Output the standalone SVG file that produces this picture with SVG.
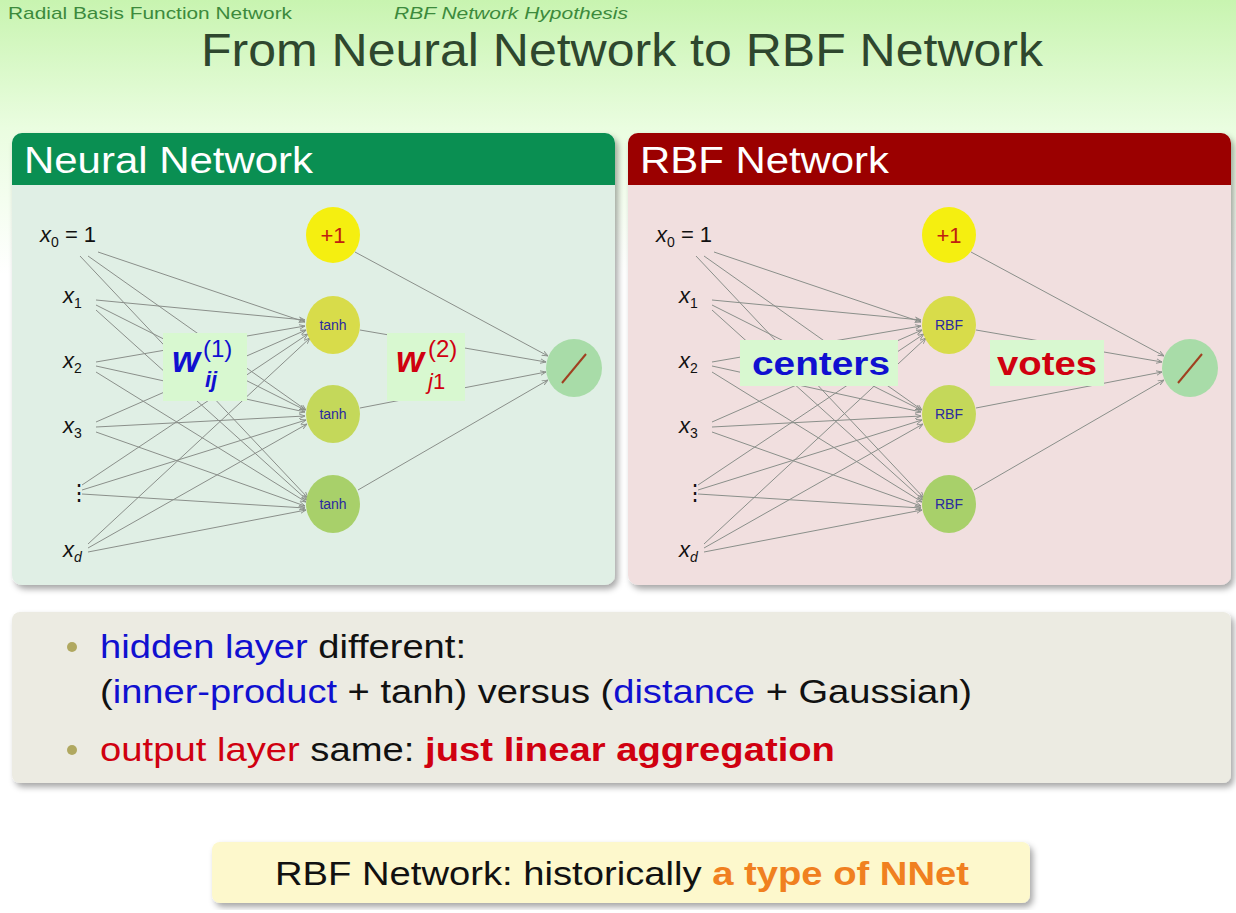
<svg xmlns="http://www.w3.org/2000/svg" xmlns:xlink="http://www.w3.org/1999/xlink" width="1236" height="913" viewBox="0 0 1236 913">
<style>
text{font-family:"Liberation Sans",Arial,sans-serif}
.e{stroke:#8a8f8a;stroke-width:1;fill:none;marker-end:url(#ah)}
.in{font-size:22px;font-style:italic;fill:#111}
.sub{font-size:14px}
.hd{font-size:37px;fill:#fff}
.nd{font-size:14px;fill:#2a2aa0;text-anchor:middle}
.bt{font-size:33px;fill:#111}
.blue{fill:#1010d0}
.red{fill:#d00010}
</style>
<defs>
<linearGradient id="bg" x1="0" y1="0" x2="0" y2="1">
<stop offset="0" stop-color="#c8f4b0"/><stop offset="0.14" stop-color="#eafde0"/><stop offset="0.3" stop-color="#ffffff"/>
</linearGradient>
<marker id="ah" viewBox="0 0 10 10" refX="10" refY="5" markerWidth="6" markerHeight="6" orient="auto"><path d="M0,1 L10,5 L0,9" fill="none" stroke="#8a8f8a" stroke-width="1.5"/></marker>
<filter id="sh" x="-5%" y="-5%" width="110%" height="115%"><feDropShadow dx="3" dy="4" stdDeviation="3" flood-color="#000" flood-opacity="0.35"/></filter>
<g id="edges">
<line class="e" x1="98" y1="252" x2="305" y2="322"/><line class="e" x1="88" y1="256" x2="306" y2="410"/><line class="e" x1="80" y1="256" x2="308" y2="498"/>
<line class="e" x1="96" y1="300" x2="305" y2="320"/><line class="e" x1="96" y1="305" x2="305" y2="410"/><line class="e" x1="96" y1="310" x2="307" y2="500"/>
<line class="e" x1="96" y1="362" x2="305" y2="326"/><line class="e" x1="96" y1="366" x2="305" y2="412"/><line class="e" x1="96" y1="372" x2="306" y2="502"/>
<line class="e" x1="96" y1="422" x2="306" y2="330"/><line class="e" x1="96" y1="427" x2="305" y2="416"/><line class="e" x1="96" y1="432" x2="305" y2="506"/>
<line class="e" x1="82" y1="485" x2="308" y2="334"/><line class="e" x1="82" y1="490" x2="306" y2="420"/><line class="e" x1="82" y1="494" x2="305" y2="508"/>
<line class="e" x1="88" y1="544" x2="310" y2="338"/><line class="e" x1="88" y1="548" x2="307" y2="424"/><line class="e" x1="88" y1="552" x2="306" y2="510"/>
<line class="e" x1="355" y1="252" x2="548" y2="356"/><line class="e" x1="360" y1="330" x2="546" y2="362"/><line class="e" x1="360" y1="408" x2="546" y2="372"/><line class="e" x1="358" y1="490" x2="548" y2="380"/>
</g>
</defs>
<rect width="1236" height="913" fill="url(#bg)"/>
<text x="8" y="19" font-size="17" fill="#3c8a3c" textLength="284" lengthAdjust="spacingAndGlyphs">Radial Basis Function Network</text>
<text x="394" y="19" font-size="17" font-style="italic" fill="#3c8a3c" textLength="234" lengthAdjust="spacingAndGlyphs">RBF Network Hypothesis</text>
<text x="201" y="66" font-size="46" fill="#2e472e" textLength="842" lengthAdjust="spacingAndGlyphs">From Neural Network to RBF Network</text>

<g id="panel-nn">
<rect x="12" y="133" width="603" height="452" rx="10" fill="#e0efe5" filter="url(#sh)"/>
<path d="M12,185 V143 a10,10 0 0 1 10,-10 H605 a10,10 0 0 1 10,10 V185 Z" fill="#0a8f52"/>
<text class="hd" x="24" y="173" textLength="289" lengthAdjust="spacingAndGlyphs">Neural Network</text>
</g>
<g id="panel-rbf">
<rect x="628" y="133" width="603" height="452" rx="10" fill="#f1dfdf" filter="url(#sh)"/>
<path d="M628,185 V143 a10,10 0 0 1 10,-10 H1221 a10,10 0 0 1 10,10 V185 Z" fill="#9b0000"/>
<text class="hd" x="640" y="173" textLength="249" lengthAdjust="spacingAndGlyphs">RBF Network</text>
</g>

<g id="connectors">
<use xlink:href="#edges"/>
<use xlink:href="#edges" transform="translate(616,0)"/>
</g>

<g id="nn-inputs">
<text class="in" x="40" y="242">x<tspan class="sub" dy="5" font-style="normal">0</tspan><tspan dy="-5" font-style="normal"> = 1</tspan></text>
<text class="in" x="63" y="303">x<tspan class="sub" dy="5" font-style="normal">1</tspan></text>
<text class="in" x="63" y="368">x<tspan class="sub" dy="5" font-style="normal">2</tspan></text>
<text class="in" x="63" y="433">x<tspan class="sub" dy="5" font-style="normal">3</tspan></text>
<text x="68" y="500" font-size="22" fill="#111">⋮</text>
<text class="in" x="63" y="557">x<tspan class="sub" dy="5">d</tspan></text>
</g>
<g id="rbf-inputs" transform="translate(616,0)">
<text class="in" x="40" y="242">x<tspan class="sub" dy="5" font-style="normal">0</tspan><tspan dy="-5" font-style="normal"> = 1</tspan></text>
<text class="in" x="63" y="303">x<tspan class="sub" dy="5" font-style="normal">1</tspan></text>
<text class="in" x="63" y="368">x<tspan class="sub" dy="5" font-style="normal">2</tspan></text>
<text class="in" x="63" y="433">x<tspan class="sub" dy="5" font-style="normal">3</tspan></text>
<text x="68" y="500" font-size="22" fill="#111">⋮</text>
<text class="in" x="63" y="557">x<tspan class="sub" dy="5">d</tspan></text>
</g>

<g id="nn-bias"><ellipse cx="333" cy="235" rx="27" ry="28" fill="#f5ef10"/><text x="333" y="243" font-size="22" fill="#c02010" text-anchor="middle">+1</text></g>
<g id="nn-h1"><ellipse cx="333" cy="325" rx="27" ry="29" fill="#d8dc4a"/><text class="nd" x="333" y="330">tanh</text></g>
<g id="nn-h2"><ellipse cx="333" cy="414" rx="27" ry="29" fill="#c4d85a"/><text class="nd" x="333" y="419">tanh</text></g>
<g id="nn-h3"><ellipse cx="333" cy="504" rx="27" ry="29" fill="#a8d06a"/><text class="nd" x="333" y="509">tanh</text></g>
<g id="nn-out"><ellipse cx="574" cy="368" rx="28" ry="29" fill="#a8dca8"/><line x1="562" y1="383" x2="586" y2="354" stroke="#a04020" stroke-width="2"/></g>

<g id="rbf-bias"><ellipse cx="949" cy="235" rx="27" ry="28" fill="#f5ef10"/><text x="949" y="243" font-size="22" fill="#c02010" text-anchor="middle">+1</text></g>
<g id="rbf-h1"><ellipse cx="949" cy="325" rx="27" ry="29" fill="#d8dc4a"/><text class="nd" x="949" y="330">RBF</text></g>
<g id="rbf-h2"><ellipse cx="949" cy="414" rx="27" ry="29" fill="#c4d85a"/><text class="nd" x="949" y="419">RBF</text></g>
<g id="rbf-h3"><ellipse cx="949" cy="504" rx="27" ry="29" fill="#a8d06a"/><text class="nd" x="949" y="509">RBF</text></g>
<g id="rbf-out"><ellipse cx="1190" cy="368" rx="28" ry="29" fill="#a8dca8"/><line x1="1178" y1="383" x2="1202" y2="354" stroke="#a04020" stroke-width="2"/></g>

<g id="w1">
<rect x="163" y="333" width="84" height="68" fill="#d8f8d0"/>
<text x="172" y="372" font-size="36" font-style="italic" font-weight="bold" fill="#1010d0">w</text>
<text x="203" y="357" font-size="24" fill="#1010d0">(1)</text>
<text x="205" y="387" font-size="22" font-style="italic" font-weight="bold" fill="#1010d0">ij</text>
</g>
<g id="w2">
<rect x="387" y="333" width="78" height="68" fill="#d8f8d0"/>
<text x="396" y="372" font-size="36" font-style="italic" font-weight="bold" fill="#d00010">w</text>
<text x="428" y="357" font-size="24" fill="#d00010">(2)</text>
<text x="428" y="389" font-size="22" fill="#d00010"><tspan font-style="italic">j</tspan>1</text>
</g>
<g id="centers"><rect x="740" y="340" width="158" height="46" fill="#d8f8d0"/><text x="752" y="375" font-size="34" font-weight="bold" fill="#1010d0" textLength="138" lengthAdjust="spacingAndGlyphs">centers</text></g>
<g id="votes"><rect x="990" y="340" width="114" height="46" fill="#d8f8d0"/><text x="997" y="375" font-size="34" font-weight="bold" fill="#d00010" textLength="100" lengthAdjust="spacingAndGlyphs">votes</text></g>

<g id="bullets">
<rect x="12" y="612" width="1219" height="171" rx="8" fill="#ecebe2" filter="url(#sh)"/>
<circle cx="72" cy="647" r="5" fill="#b0a860"/>
<text class="bt" x="100" y="658" textLength="366" lengthAdjust="spacingAndGlyphs"><tspan class="blue">hidden layer</tspan> different:</text>
<text class="bt" x="100" y="703" textLength="872" lengthAdjust="spacingAndGlyphs">(<tspan class="blue">inner-product</tspan> + tanh) versus (<tspan class="blue">distance</tspan> + Gaussian)</text>
<circle cx="72" cy="750" r="5" fill="#b0a860"/>
<text class="bt" x="100" y="761" textLength="735" lengthAdjust="spacingAndGlyphs"><tspan class="red">output layer</tspan> same: <tspan class="red" font-weight="bold">just linear aggregation</tspan></text>
</g>
<g id="footer">
<rect x="212" y="842" width="818" height="61" rx="8" fill="#fdf8cc" filter="url(#sh)"/>
<text class="bt" x="275" y="885" textLength="694" lengthAdjust="spacingAndGlyphs">RBF Network: historically <tspan font-weight="bold" fill="#f08020">a type of NNet</tspan></text>
</g>
</svg>
